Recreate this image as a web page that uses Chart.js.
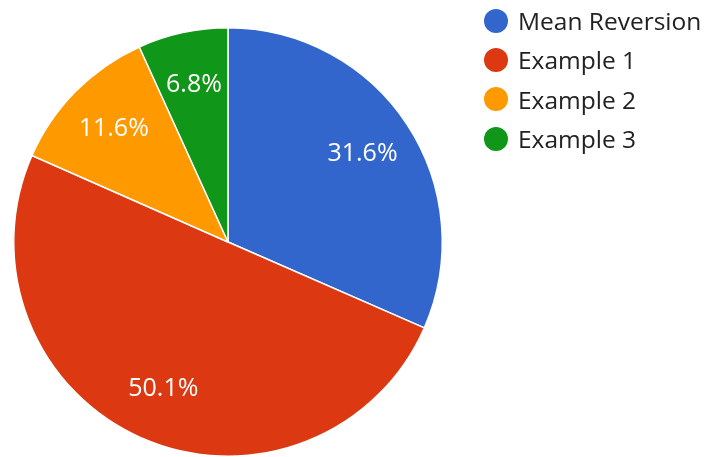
<!DOCTYPE html>
<html>
<head>
<meta charset="utf-8">
<script src="https://cdn.jsdelivr.net/npm/chart.js@4"></script>
<style>
  html, body { margin: 0; padding: 0; background: #fff; }
  #wrap { position: relative; width: 704px; height: 457px; }
  #chart { position: absolute; left: 0; top: 0; }
  #legend { position: absolute; left: 484px; top: 1px; font-family: "Open Sans", sans-serif; font-size: 24.5px; color: #222; }
  .item { display: flex; align-items: center; height: 39.3px; white-space: nowrap; }
  .dot { width: 24px; height: 24px; border-radius: 50%; margin-right: 10px; flex: none; }
</style>
</head>
<body>
<div id="wrap">
  <canvas id="chart" width="704" height="457"></canvas>
  <div id="legend"></div>
</div>
<script>
const categories = ["Mean Reversion", "Example 1", "Example 2", "Example 3"];
const shares = [31.6, 50.1, 11.6, 6.8];
const colors = ["#3366cc", "#dc3912", "#ff9900", "#109618"];

const legend = document.getElementById('legend');
categories.forEach((c, i) => {
  const row = document.createElement('div');
  row.className = 'item';
  const d = document.createElement('span');
  d.className = 'dot';
  d.style.background = colors[i];
  const t = document.createElement('span');
  t.textContent = c;
  row.appendChild(d); row.appendChild(t);
  legend.appendChild(row);
});

const sliceLabels = {
  id: 'sliceLabels',
  afterDatasetsDraw(chart) {
    const ctx = chart.ctx;
    const meta = chart.getDatasetMeta(0);
    ctx.save();
    ctx.fillStyle = '#ffffff';
    ctx.font = '25px "Open Sans", sans-serif';
    ctx.textAlign = 'center';
    ctx.textBaseline = 'middle';
    meta.data.forEach((arc, i) => {
      const p = arc.getProps(['x', 'y', 'startAngle', 'endAngle', 'outerRadius'], true);
      const mid = (p.startAngle + p.endAngle) / 2;
      const r = p.outerRadius * 0.75;
      ctx.fillText(shares[i].toFixed(1) + '%', p.x + Math.cos(mid) * r, p.y + Math.sin(mid) * r);
    });
    ctx.restore();
  }
};

new Chart(document.getElementById('chart'), {
  type: 'pie',
  data: {
    labels: categories,
    datasets: [{
      data: shares,
      backgroundColor: colors,
      borderColor: '#ffffff',
      borderWidth: 1.5
    }]
  },
  options: {
    responsive: false,
    animation: false,
    layout: { padding: { left: 13, top: 27, right: 261, bottom: 0 } },
    plugins: {
      legend: { display: false },
      tooltip: { enabled: false }
    }
  },
  plugins: [sliceLabels]
});
</script>
</body>
</html>
